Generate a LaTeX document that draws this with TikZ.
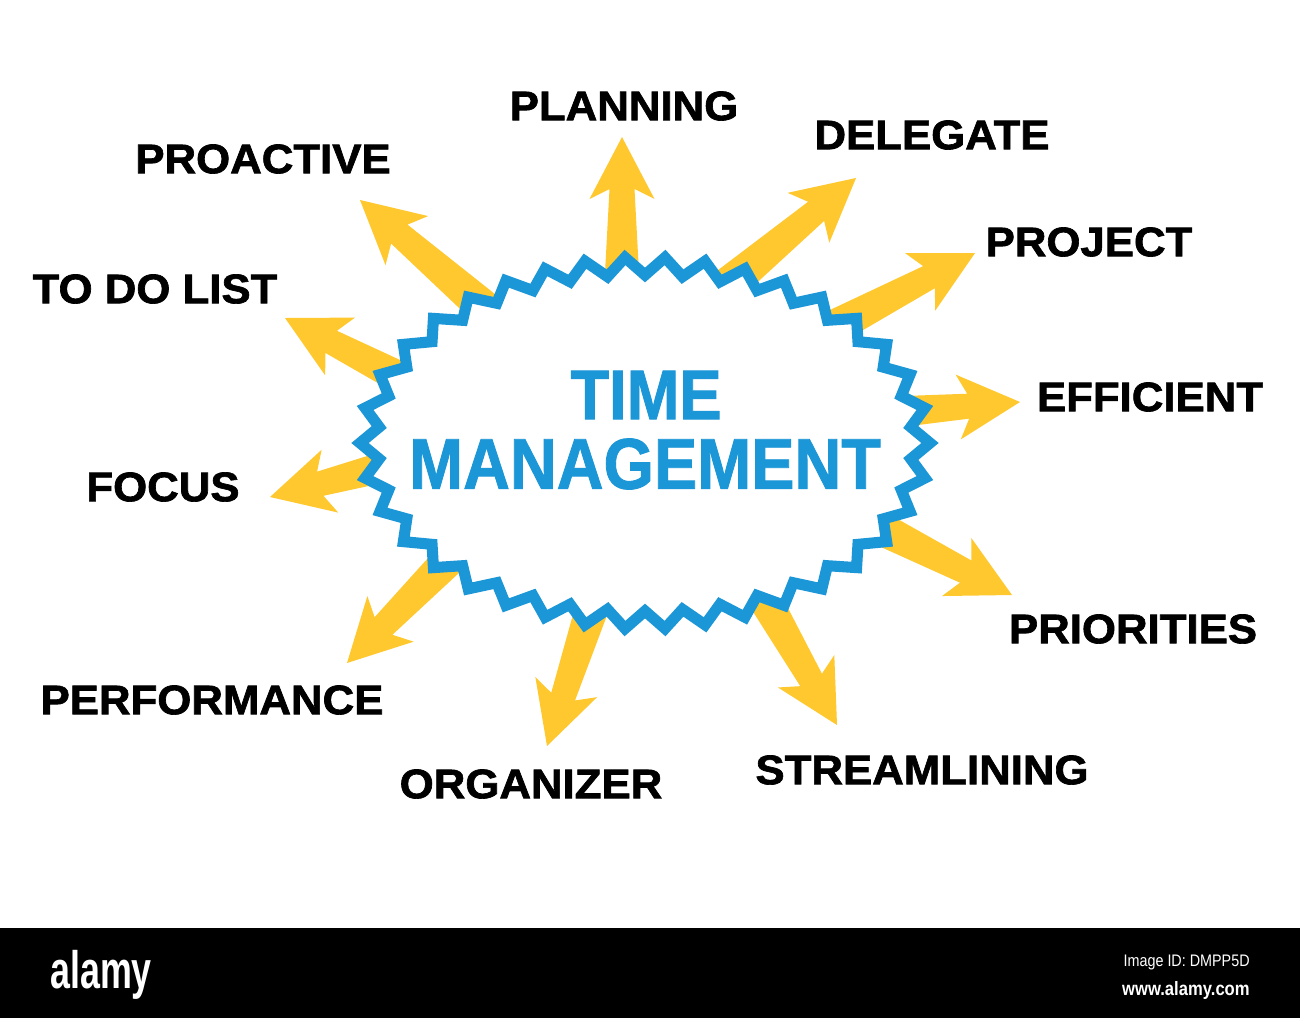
\documentclass[tikz,border=0pt]{standalone}
\usepackage{fontspec}
\usetikzlibrary{calc}
\newfontfamily\labfont[FakeStretch=1.06,BoldFeatures={FakeBold=1.6}]{Liberation Sans}
\newfontfamily\titlefont[FakeStretch=0.9,BoldFeatures={FakeBold=1.2}]{Liberation Sans}
\newfontfamily\wmfont[FakeStretch=0.68]{Liberation Sans}
\newfontfamily\wmsmall[FakeStretch=0.86]{Liberation Sans}
\definecolor{tmyellow}{RGB}{254,200,46}
\definecolor{tmblue}{RGB}{27,150,215}
\begin{document}
\begin{tikzpicture}[x=0.02cm,y=-0.02cm,
  lab/.style={font=\labfont\bfseries\fontsize{23.5}{28}\selectfont, text=black, inner sep=0pt},
  ray/.style={fill=tmyellow},
  rim/.style={draw=tmblue, line width=6.3pt, fill=white, line join=miter},
  ttl/.style={text=tmblue, inner sep=0pt},
  wm/.style={text=white, inner sep=0pt}]
\fill[white] (0,0) rectangle (1300,1018);
\useasboundingbox (0,0) rectangle (1300,1018);
% yellow arrows
\foreach \n/\bx/\by/\tx/\ty in {plan/622/310/622/137, dele/710/300/856/178, proj/798/346/975/253,
  effi/821/418/1020/402, prio/834/505/1012/595, stre/737/551/837/725, orga/609/556/547/746,
  perf/487/521/347/663, focu/463/446/270/497, todo/463/410/285/318, proa/511/331/360/200}{
  \coordinate (\n-b) at (\bx,\by);
  \coordinate (\n-t) at (\tx,\ty);
  \coordinate (\n-j) at ($(\n-t)!1.04cm!(\n-b)$);
  \coordinate (\n-k) at ($(\n-t)!1.24cm!(\n-b)$);
  \fill[ray] ($(\n-b)!0.38cm!90:(\n-t)$) -- ($(\n-j)!0.25cm!90:(\n-t)$)
    -- ($(\n-k)!0.65cm!90:(\n-t)$) -- (\n-t) -- ($(\n-k)!0.65cm!-90:(\n-t)$)
    -- ($(\n-j)!0.25cm!-90:(\n-t)$) -- ($(\n-b)!0.38cm!-90:(\n-t)$) -- cycle;
}
% zigzag ellipse
\coordinate (centre) at (645,443);
\draw[rim] plot[samples=76, domain=0:75, variable=\k]
  ({645+(276+9*cos(180*\k))*cos(4.736842*\k+4.3*sin(9.473684*\k))},
   {443+(177+9*cos(180*\k))*sin(4.736842*\k+4.3*sin(9.473684*\k))}) -- cycle;
% title
\node[ttl, font=\titlefont\bfseries\fontsize{40}{44}\selectfont] (t1) at (646,395) {TIME};
\node[ttl, font=\titlefont\bfseries\fontsize{41}{44}\selectfont] (t2) at (645,464) {MANAGEMENT};
% labels
\node[lab] (lplan) at (624,106) {PLANNING};
\node[lab] (ldele) at (932,135) {DELEGATE};
\node[lab] (lproj) at (1089,242) {PROJECT};
\node[lab] (leffi) at (1150,397) {EFFICIENT};
\node[lab] (lprio) at (1133,629) {PRIORITIES};
\node[lab] (lstre) at (922,770) {STREAMLINING};
\node[lab] (lorga) at (531,784) {ORGANIZER};
\node[lab] (lperf) at (212,700) {PERFORMANCE};
\node[lab] (lfocu) at (163,487) {FOCUS};
\node[lab] (ltodo) at (155,289) {TO DO LIST};
\node[lab] (lproa) at (263,159) {PROACTIVE};
% watermark bar
\fill[black] (0,928) rectangle (1300,1018);
\node[wm, font=\wmfont\bfseries\fontsize{30}{32}\selectfont] (logo) at (101,975) {alamy};
\node[wm, anchor=east, font=\wmsmall\fontsize{9.5}{11}\selectfont] (imgid) at (1250,962) {Image ID: DMPP5D};
\node[wm, anchor=east, font=\wmsmall\bfseries\fontsize{11}{13}\selectfont] (www) at (1250,990) {www.alamy.com};
\end{tikzpicture}
\end{document}
